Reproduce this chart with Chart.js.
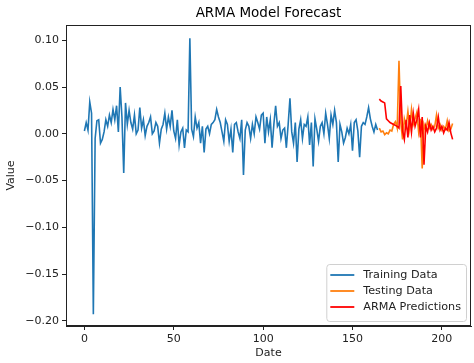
<!DOCTYPE html>
<html>
<head>
<meta charset="utf-8">
<script src="https://cdn.jsdelivr.net/npm/chart.js@4.4.0/dist/chart.umd.min.js"></script>
<style>html,body{margin:0;padding:0;background:#fff}canvas{display:block}</style>
</head>
<body>
<canvas id="chart" width="474" height="363"></canvas>
<script>
// series values
var trainData = [
  0.003, 0.012, 0.004, 0.034, 0.022, -0.193, -0.005, 0.014, 0.015, -0.010,
  -0.006, 0.002, 0.015, 0.008, 0.020, 0.012, 0.026, 0.015, 0.030, 0.002,
  0.050, 0.018, -0.042, 0.033, 0.010, 0.025, 0.012, 0.005, 0.020, 0.000,
  0.004, 0.028, 0.006, 0.015, -0.002, 0.008, 0.012, 0.018, 0.000, 0.003,
  0.012, 0.008, -0.010, 0.005, 0.010, 0.022, 0.005, 0.018, 0.008, 0.025,
  0.003, -0.005, 0.015, -0.012, 0.002, 0.006, -0.015, 0.004, 0.002, 0.102,
  0.005, -0.003, 0.018, 0.006, 0.012, -0.010, 0.008, -0.020, 0.005, 0.008,
  0.000, 0.010, 0.012, 0.015, 0.026, 0.018, 0.012, 0.002, -0.008, 0.015,
  0.010, -0.008, 0.005, -0.020, 0.010, 0.012, 0.002, -0.005, 0.015, -0.044,
  0.004, 0.012, 0.008, -0.005, 0.010, 0.000, 0.018, 0.012, 0.005, 0.020,
  0.022, -0.010, 0.018, 0.002, 0.015, -0.015, 0.010, 0.030, 0.008, 0.012,
  -0.005, 0.004, 0.006, -0.015, 0.010, 0.038, 0.002, -0.010, 0.012, -0.030,
  0.005, 0.015, -0.005, 0.010, 0.008, 0.018, -0.012, 0.012, -0.035, 0.016,
  0.005, -0.008, 0.008, 0.012, 0.000, 0.022, 0.010, -0.005, 0.020, 0.010,
  0.025, 0.012, -0.030, 0.010, 0.002, -0.010, -0.004, 0.006, 0.000, 0.010,
  -0.018, 0.012, 0.015, 0.003, -0.025, 0.008, 0.012, 0.010, 0.018, 0.028,
  0.016, 0.008, 0.002, 0.010, 0.004
];
var testStart = 165;
var testData = [
  0.006, 0.002, 0.003, -0.001, 0.001, 0.000, 0.004, 0.003, 0.010, 0.013,
  0.006, 0.078, 0.012, -0.006, 0.016, 0.008, 0.024, 0.006, 0.026, 0.010,
  0.016, 0.023, 0.002, 0.016, -0.037, 0.010, 0.004, 0.014, 0.006, 0.010,
  0.005, 0.008, 0.020, 0.006, 0.010, 0.004, 0.008, 0.005, 0.014, 0.003,
  0.005, 0.011
];
var predData = [
  0.037, 0.035, 0.034, 0.033, 0.016, 0.014, 0.012, 0.011, 0.010, 0.009,
  0.008, 0.006, 0.051, 0.003, -0.006, 0.015, -0.004, 0.020, 0.002, 0.022,
  0.008, 0.015, 0.026, -0.004, 0.018, -0.033, 0.008, 0.002, 0.012, 0.004,
  0.008, 0.002, 0.006, 0.018, 0.004, 0.008, 0.001, 0.006, 0.004, 0.012,
  0.001, -0.006
];
var seriesLabels = ['Training Data', 'Testing Data', 'ARMA Predictions'];
var seriesColors = ['#1f77b4', '#ff7f0e', '#ff0000'];
var xTicks = [0, 50, 100, 150, 200];
var yTicks = [-0.20, -0.15, -0.10, -0.05, 0.00, 0.05, 0.10];
var chartTitle = 'ARMA Model Forecast';

var FONT = 'DejaVu Sans';
var INK = '#222';

function toPoints(arr, start) {
  return arr.map(function (v, i) { return { x: start + i, y: v }; });
}

// title centred over the plot area, frame on all four sides
var frame = {
  id: 'frame',
  afterDatasetsDraw: function (chart) {
    var a = chart.chartArea, ctx = chart.ctx;
    ctx.save();
    ctx.strokeStyle = INK;
    ctx.lineWidth = 1;
    ctx.strokeRect(Math.round(a.left) + 0.5, Math.round(a.top) + 0.5,
      Math.round(a.right - a.left) - 1, Math.round(a.bottom - a.top) - 1);
    ctx.fillStyle = '#000';
    ctx.font = '13.5px "' + FONT + '"';
    ctx.textAlign = 'center';
    ctx.textBaseline = 'middle';
    ctx.fillText(chartTitle, (a.left + a.right) / 2, 13);
    ctx.restore();
  }
};

var boxLegend = {
  id: 'boxLegend',
  afterDraw: function (chart) {
    var a = chart.chartArea, ctx = chart.ctx;
    var sets = chart.data.datasets;
    ctx.save();
    ctx.font = '11.2px "' + FONT + '"';
    var maxW = 0;
    sets.forEach(function (d) { maxW = Math.max(maxW, ctx.measureText(d.label).width); });
    var rowH = 16, lineLen = 24;
    var w = 4 + lineLen + 9 + maxW + 5;
    var h = sets.length * rowH + 9;
    var x0 = a.right - 5 - w, y0 = a.bottom - 5 - h;
    ctx.beginPath();
    ctx.roundRect(x0 + 0.5, y0 + 0.5, w, h, 3);
    ctx.fillStyle = 'rgba(255,255,255,0.85)';
    ctx.fill();
    ctx.strokeStyle = '#d0d0d0';
    ctx.lineWidth = 1;
    ctx.stroke();
    sets.forEach(function (d, i) {
      var cy = y0 + 11 + i * rowH;
      ctx.beginPath();
      ctx.moveTo(x0 + 4, cy);
      ctx.lineTo(x0 + 4 + lineLen, cy);
      ctx.strokeStyle = d.borderColor;
      ctx.lineWidth = 1.8;
      ctx.stroke();
      ctx.fillStyle = INK;
      ctx.textBaseline = 'middle';
      ctx.fillText(d.label, x0 + 4 + lineLen + 9, cy + 0.5);
    });
    ctx.restore();
  }
};

new Chart(document.getElementById('chart'), {
  type: 'line',
  data: {
    datasets: [
      { label: seriesLabels[0], data: toPoints(trainData, 0), borderColor: seriesColors[0], order: 3 },
      { label: seriesLabels[1], data: toPoints(testData, testStart), borderColor: seriesColors[1], order: 2 },
      { label: seriesLabels[2], data: toPoints(predData, testStart), borderColor: seriesColors[2], order: 1 }
    ]
  },
  options: {
    responsive: false,
    animation: false,
    devicePixelRatio: 1,
    layout: { padding: { left: 0, right: 3, top: 25, bottom: 0 } },
    elements: {
      line: { borderWidth: 1.6, tension: 0, fill: false },
      point: { radius: 0 }
    },
    plugins: {
      legend: { display: false },
      tooltip: { enabled: false },
      title: { display: false }
    },
    scales: {
      x: {
        type: 'linear',
        min: -10.3,
        max: 216.3,
        afterBuildTicks: function (s) { s.ticks = xTicks.map(function (v) { return { value: v }; }); },
        afterFit: function (s) { s.height = 37; },
        grid: { drawOnChartArea: false, tickLength: 4, color: INK },
        border: { color: INK },
        ticks: { color: INK, font: { family: FONT, size: 11 }, padding: 3, maxRotation: 0,
          callback: function (v) { return String(v); } },
        title: { display: true, text: 'Date', color: INK, font: { family: FONT, size: 11 },
          padding: { top: 0, bottom: 3 } }
      },
      y: {
        min: -0.2055,
        max: 0.1163,
        afterBuildTicks: function (s) { s.ticks = yTicks.map(function (v) { return { value: v }; }); },
        afterFit: function (s) { s.width = 66; },
        grid: { drawOnChartArea: false, tickLength: 4, color: INK },
        border: { color: INK },
        ticks: { color: INK, font: { family: FONT, size: 11 }, padding: 3,
          callback: function (v) { return v.toFixed(2).replace('-', '\u2212'); } },
        title: { display: true, text: 'Value', color: INK, font: { family: FONT, size: 11 },
          padding: { top: 5, bottom: 0 } }
      }
    }
  },
  plugins: [frame, boxLegend]
});
</script>
</body>
</html>
